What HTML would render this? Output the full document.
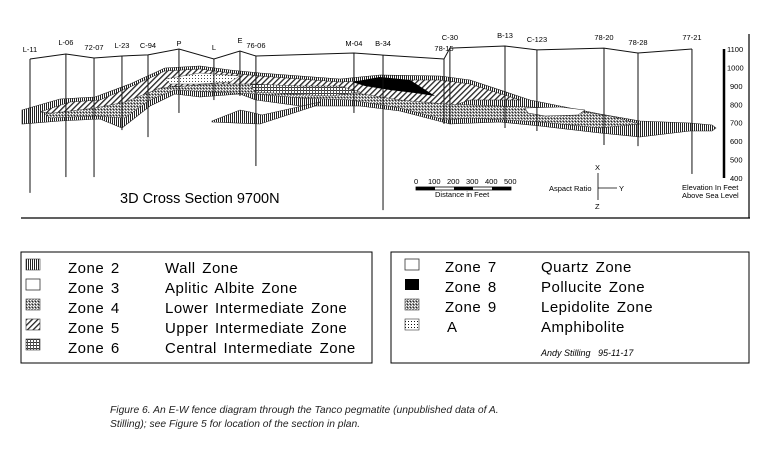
<!DOCTYPE html>
<html><head><meta charset="utf-8"><style>
html,body{margin:0;padding:0;background:#fff;}
svg{display:block;font-family:"Liberation Sans",Arial,sans-serif;}
.pre{white-space:pre;}
.leg{letter-spacing:0.5px;word-spacing:2px;}
</style></head><body>
<svg id="fig" width="774" height="460" viewBox="0 0 774 460">
<defs>
<pattern id="pV" width="2" height="4" patternUnits="userSpaceOnUse"><rect width="2" height="4" fill="#fff"/><rect width="1" height="4" fill="#222"/></pattern>
<pattern id="pD" width="4" height="4" patternUnits="userSpaceOnUse" patternTransform="rotate(45)"><rect width="4" height="4" fill="#fff"/><rect width="1.3" height="4" fill="#222"/></pattern>
<pattern id="pG" width="3" height="3" patternUnits="userSpaceOnUse"><rect width="3" height="3" fill="#fff"/><rect width="3" height="1" fill="#333"/><rect width="1" height="3" fill="#555"/></pattern>
<pattern id="pS" width="3" height="3" patternUnits="userSpaceOnUse"><rect width="3" height="3" fill="#999"/><rect x="0" y="0" width="1" height="1" fill="#fff"/><rect x="2" y="1" width="1" height="1" fill="#222"/><rect x="1" y="2" width="1" height="1" fill="#fff"/></pattern>
<pattern id="pDot" width="3" height="3" patternUnits="userSpaceOnUse"><rect width="3" height="3" fill="#fff"/><rect width="1" height="1" fill="#444"/></pattern>
<pattern id="pA" width="3" height="3" patternUnits="userSpaceOnUse"><rect width="3" height="3" fill="#fff"/><rect width="1" height="1" fill="#111"/></pattern>
</defs>
<g id="body">
<path fill="url(#pV)" stroke="#222" stroke-width="0.6" d="M22,110 L60,99 L95,97 L130,84 L165,68 L200,66 L230,70 L260,73 L340,79 L380,75 L440,76 L470,80 L530,100 L600,114 L640,121 L690,123 L712,125 L716,128 L712,131 L690,131 L640,137 L600,133 L540,126 L500,122 L450,124 L400,111 L360,106 L300,106 L256,100 L240,94 L200,97 L175,94 L150,106 L122,128 L100,119 L60,121 L22,124 Z"/>
<path fill="url(#pD)" stroke="#222" stroke-width="0.5" d="M40,112 L70,102 L100,100 L130,87 L165,71 L200,69 L230,73 L260,76 L340,82 L380,80 L440,80 L470,84 L520,100 L470,100 L440,110 L400,104 L350,96 L300,92 L256,90 L210,88 L170,86 L150,96 L125,112 L95,112 L60,114 Z"/>
<path fill="url(#pS)" stroke="#222" stroke-width="0.4" d="M45,114 L95,108 L125,102 L160,88 L210,84 L256,84 L300,88 L350,92 L400,100 L445,104 L500,106 L560,108 L610,116 L640,124 L600,128 L540,122 L470,118 L445,120 L400,108 L350,100 L300,98 L256,94 L210,92 L175,90 L150,100 L125,118 L95,116 L50,118 Z"/>
<path fill="url(#pDot)" stroke="#222" stroke-width="0.4" d="M165,79 L200,73 L240,76 L230,82 L200,84 L170,84 Z"/>
<path fill="url(#pG)" stroke="#222" stroke-width="0.4" d="M250,84 L300,86 L340,86 L360,92 L330,96 L290,94 L255,92 Z"/>
<path fill="#fff" stroke="#222" stroke-width="0.5" d="M525,108 L560,107 L585,110 L578,115 L545,116 L528,113 Z"/>
<path fill="#000" d="M352,82 L380,77 L410,80 L435,96 L415,93 L390,90 L365,86 Z"/>
<path fill="url(#pV)" stroke="#222" stroke-width="0.6" d="M212,121 L240,110 L250,112 L262,115 L320,102 L315,106 L260,124 L212,122 Z"/>
</g>
<g id="holes"></g>
<polyline id="topline" fill="none" stroke="#111" stroke-width="1"/>
<g id="elev"></g>
<text x="120" y="203" font-size="14.5">3D Cross Section  9700N</text>
<g font-size="7.5">
<text x="414" y="184">0</text><text x="428" y="184">100</text><text x="447" y="184">200</text><text x="466" y="184">300</text><text x="485" y="184">400</text><text x="504" y="184">500</text>
<rect x="416" y="187" width="95" height="3" fill="#fff" stroke="#000" stroke-width="0.8"/>
<rect x="416" y="187" width="19" height="3" fill="#000"/><rect x="454" y="187" width="19" height="3" fill="#000"/><rect x="492" y="187" width="19" height="3" fill="#000"/>
<text x="435" y="197">Distance in Feet</text>
</g>
<g font-size="7.5">
<text x="595" y="170">X</text><line x1="598" y1="173" x2="598" y2="200" stroke="#000" stroke-width="0.8"/>
<line x1="598" y1="188" x2="617" y2="188" stroke="#000" stroke-width="0.8"/>
<text x="549" y="191">Aspact Ratio</text><text x="619" y="191">Y</text><text x="595" y="209">Z</text>
</g>
<text x="682" y="190" font-size="7.5">Elevation In Feet</text>
<text x="682" y="198" font-size="7.5">Above Sea Level</text>
<line x1="21" y1="218" x2="750" y2="218" stroke="#000" stroke-width="1.2"/>
<line x1="749" y1="34" x2="749" y2="218" stroke="#000" stroke-width="1.2"/>

<g>
<rect x="21" y="252" width="351" height="111" fill="none" stroke="#000" stroke-width="1"/>
<g font-size="15" class="pre leg">
<rect x="26" y="259" width="14" height="11" fill="url(#pV)" stroke="#333" stroke-width="0.6"/><text x="68" y="273">Zone  2</text><text x="165" y="273">Wall  Zone</text>
<rect x="26" y="279" width="14" height="11" fill="#fff" stroke="#333" stroke-width="0.8"/><text x="68" y="293">Zone  3</text><text x="165" y="293">Aplitic  Albite  Zone</text>
<rect x="26" y="299" width="14" height="11" fill="url(#pS)" stroke="#333" stroke-width="0.6"/><text x="68" y="313">Zone  4</text><text x="165" y="313">Lower  Intermediate Zone</text>
<rect x="26" y="319" width="14" height="11" fill="url(#pD)" stroke="#333" stroke-width="0.6"/><text x="68" y="333">Zone  5</text><text x="165" y="333">Upper  Intermediate Zone</text>
<rect x="26" y="339" width="14" height="11" fill="url(#pG)" stroke="#333" stroke-width="0.6"/><text x="68" y="353">Zone  6</text><text x="165" y="353">Central  Intermediate  Zone</text>
</g></g>
<g>
<rect x="391" y="252" width="358" height="111" fill="none" stroke="#000" stroke-width="1"/>
<g font-size="15" class="pre leg">
<rect x="405" y="259" width="14" height="11" fill="#fff" stroke="#333" stroke-width="0.8"/><text x="445" y="272">Zone  7</text><text x="541" y="272">Quartz  Zone</text>
<rect x="405" y="279" width="14" height="11" fill="#000"/><text x="445" y="292">Zone  8</text><text x="541" y="292">Pollucite  Zone</text>
<rect x="405" y="299" width="14" height="11" fill="url(#pS)" stroke="#333" stroke-width="0.6"/><text x="445" y="312">Zone  9</text><text x="541" y="312">Lepidolite Zone</text>
<rect x="405" y="319" width="14" height="11" fill="url(#pA)" stroke="#333" stroke-width="0.6"/><text x="447" y="332">A</text><text x="541" y="332">Amphibolite</text>
</g>
<text x="541" y="356" font-size="9" font-style="italic" class="pre">Andy Stilling   95-11-17</text>
</g>
<g font-size="10.3" font-style="italic" fill="#222">
<text x="110" y="413">Figure 6. An E-W fence diagram through the Tanco pegmatite (unpublished data of A.</text>
<text x="110" y="427">Stilling); see Figure 5 for location of the section in plan.</text>
</g>
</svg>
<script>
const holeNames=["L-11","L-06","72-07","L-23","C-94","P","L","E","76-06","M-04","B-34","78-15","C-30","B-13","C-123","78-20","78-28","77-21"];
const holeDist=[0,189,337,484,621,784,968,1105,1189,1705,1858,2179,2210,2500,2668,3021,3200,3484];
const holeTop=[1046,1073,1051,1062,1068,1100,1046,1089,1062,1078,1067,1046,1105,1116,1095,1105,1078,1100];
const holeBottom=[319,405,405,660,622,753,823,845,465,753,226,693,693,671,655,579,573,422];
const labelRaise=[7,9,8,8,7,3,9,8,8,7,9,8,8,8,8,8,8,9];
const elevTicks=[1100,1000,900,800,700,600,500,400];
const NS="http://www.w3.org/2000/svg";
function xs(d){return 30+d*0.19;}
function ys(e){return 49+(1100-e)*129/700;}
const g=document.getElementById('holes');
let pts=[];
holeNames.forEach((n,i)=>{
 const x=xs(holeDist[i]);
 const l=document.createElementNS(NS,'line');
 
 
 l.setAttribute('x1',x);l.setAttribute('x2',x);
 l.setAttribute('y1',ys(holeTop[i]));l.setAttribute('y2',ys(holeBottom[i]));
 l.setAttribute('stroke','#111');l.setAttribute('stroke-width','1');
 g.appendChild(l);
 const t=document.createElementNS(NS,'text');
 
 
 t.setAttribute('x',x);t.setAttribute('y',ys(holeTop[i])-labelRaise[i]);
 t.setAttribute('font-size','7.5');t.setAttribute('text-anchor','middle');
 t.textContent=n;g.appendChild(t);
 pts.push(x+','+ys(holeTop[i]));
});
document.getElementById('topline').setAttribute('points',pts.join(' '));
const eg=document.getElementById('elev');
const bar=document.createElementNS(NS,'line');


bar.setAttribute('x1',724);bar.setAttribute('x2',724);
bar.setAttribute('y1',ys(1100));bar.setAttribute('y2',ys(400));
bar.setAttribute('stroke','#000');bar.setAttribute('stroke-width','2.5');
eg.appendChild(bar);
elevTicks.forEach(v=>{
 const t=document.createElementNS(NS,'text');
 
 
 t.setAttribute('x',v>=1000?727:730);t.setAttribute('y',ys(v)+3);
 t.setAttribute('font-size','7.5');t.textContent=v;eg.appendChild(t);
});
</script>
</body></html>
